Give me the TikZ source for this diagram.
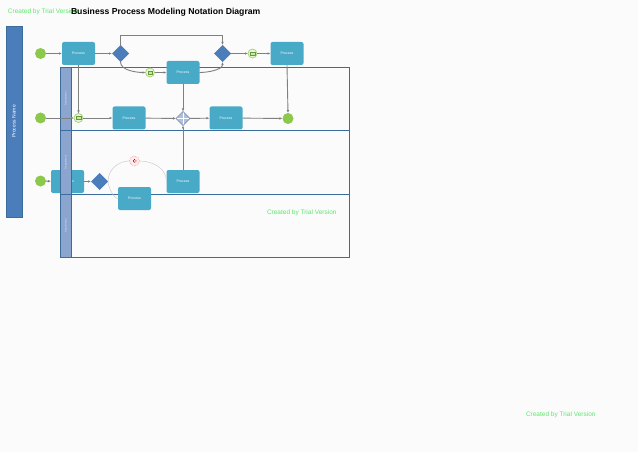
\documentclass[tikz,border=0pt]{standalone}
\usepackage{fontspec}
\setmainfont{Liberation Sans}
\usepackage{tikz}
\usetikzlibrary{arrows.meta, shapes.geometric, positioning, calc}
\definecolor{pagebg}{HTML}{FBFBFB}
\definecolor{poolblue}{HTML}{4A7DBA}
\definecolor{laneblue}{HTML}{8CA5CF}
\definecolor{laneline}{HTML}{3B6C9C}
\definecolor{proc}{HTML}{48AAC6}
\definecolor{evgreen}{HTML}{8CC84B}
\definecolor{trial}{HTML}{5BE86B}

\begin{document}
\begin{tikzpicture}[x=1pt, y=-1pt, font=\small, align=center,
    every node/.style={outer sep=0pt},
    pool/.style={draw=laneline, line width=0.4pt, fill=poolblue, anchor=north west, minimum width=16pt, minimum height=191pt, inner sep=0pt},
    lane/.style={draw=laneline, line width=0.8pt, anchor=north west, minimum width=289pt, minimum height=63.4pt, inner sep=0pt},
    lanehead/.style={draw=laneline, line width=0.8pt, fill=laneblue, anchor=north west, minimum width=11pt, minimum height=63.4pt, inner sep=0pt},
    sidetxt/.style={text=white, rotate=90, font=\fontsize{2.6}{3}\selectfont, text opacity=0.7},
    proc/.style={fill=proc, rounded corners=2pt, minimum width=33pt, minimum height=23pt, inner sep=0pt, text=white, font=\fontsize{3.5}{4}\selectfont},
    gate/.style={diamond, fill=poolblue, minimum width=17pt, minimum height=17pt, inner sep=0pt},
    plusgate/.style={diamond, draw=laneblue!80!black, line width=0.4pt, fill=laneblue!70, minimum width=14pt, minimum height=14pt, inner sep=0pt,
        path picture={\draw[white, line width=1pt] (path picture bounding box.north) -- (path picture bounding box.south) (path picture bounding box.west) -- (path picture bounding box.east);}},
    ev/.style={circle, fill=evgreen, minimum size=11pt, inner sep=0pt},
    msg/.style={circle, draw=evgreen!80, line width=0.7pt, fill=evgreen!20, minimum size=9pt, inner sep=0pt,
        path picture={\draw[evgreen!75!black, line width=0.25pt, fill=evgreen!45] ($(path picture bounding box.center)+(-2.3,-1.5)$) rectangle ($(path picture bounding box.center)+(2.3,1.5)$);}},
    timer/.style={circle, draw=red!45, densely dotted, line width=0.6pt, fill=red!8, minimum size=10pt, inner sep=0pt,
        path picture={\draw[red!60!black, line width=0.9pt] (path picture bounding box.center) circle (1.5pt);}},
    arrow/.style={-{Latex[length=3pt, width=2.6pt]}, draw=black!50, line width=0.9pt},
    softarrow/.style={draw=black!20, line width=0.5pt},
    trialtxt/.style={text=trial, font=\fontsize{6.5}{7}\selectfont},
]
    \useasboundingbox (0,0) rectangle (638,452);
    \fill[pagebg] (0,0) rectangle (638,452);

    \node[trialtxt, anchor=west, inner sep=0pt] (wm1) at (8,12) {Created by Trial Version};
    \node[trialtxt, anchor=west, inner sep=0pt] (wm2) at (267,212.5) {Created by Trial Version};
    \node[trialtxt, anchor=west, inner sep=0pt] (wm3) at (526,414.5) {Created by Trial Version};
    \node[anchor=west, inner sep=0pt, font=\fontsize{8.65}{10}\bfseries\selectfont] (title) at (71,12) {Business Process Modeling Notation Diagram};

    % pool and lanes
    \node[pool] (pool) at (6,26) {};
    \node[text=white, rotate=90, font=\fontsize{5}{6}\selectfont] (poolname) at (pool.center) {Process Name};
    \node[lane] (l1) at (60.5,67.2) {};
    \node[lane] (l2) at (60.5,130.6) {};
    \node[lane] (l3) at (60.5,194) {};

    \node[proc] (p6) at (67.5,181.5) {Process};

    \node[lanehead] (h1) at (60.5,67.2) {};
    \node[lanehead] (h2) at (60.5,130.6) {};
    \node[lanehead] (h3) at (60.5,194) {};
    \node[sidetxt] at (h1.center) {Department};
    \node[sidetxt] at (h2.center) {Department};
    \node[sidetxt] at (h3.center) {Department};

    % top row
    \node[ev] (s1) at (40.5,53.5) {};
    \node[proc] (p1) at (78.5,53.5) {Process};
    \node[gate] (d1) at (120.5,53.5) {};
    \node[proc] (p2) at (183,72.5) {Process};
    \node[msg] (m1) at (150,72.5) {};
    \node[gate] (d2) at (222.5,53.5) {};
    \node[msg] (m2) at (252.5,53.5) {};
    \node[proc] (p3) at (287,53.5) {Process};

    % middle row
    \node[ev] (s2) at (40.5,118) {};
    \node[msg] (m3) at (78.5,118) {};
    \node[proc] (p4) at (129,118) {Process};
    \node[plusgate] (g1) at (183,118.5) {};
    \node[proc] (p5) at (226,118) {Process};
    \node[ev] (e1) at (288,118.5) {};

    % bottom row
    \node[ev] (s3) at (40.5,181) {};
    \node[gate] (d3) at (99.5,181.5) {};
    \node[timer] (t1) at (134.5,161) {};
    \node[proc] (p7) at (134.5,198.5) {Process};
    \node[proc] (p8) at (183,181.5) {Process};

    \draw[arrow] (s1) -- (p1);
    \draw[arrow] (p1) -- (d1);
    \draw[arrow] (d1.north) -- ++(0,-10) -| (d2.north);
    \draw[arrow] (d1.south) to[out=-90, in=180, looseness=0.8] (m1.west);
    \draw[arrow] (m1) -- (p2);
    \draw[arrow] (p2.east) to[out=0, in=-90, looseness=0.8] (d2.south);
    \draw[arrow] (d2) -- (m2);
    \draw[arrow] (m2) -- (p3);
    \draw[arrow] (p3.south) -- (e1.north);
    \draw[arrow] (p1.south) -- (m3.north);
    \draw[arrow] (s2) -- (m3);
    \draw[arrow] (m3) -- (p4);
    \draw[arrow] (p4) -- (g1);
    \draw[arrow] (g1) -- (p5);
    \draw[arrow] (p5) -- (e1);
    \draw[arrow] (p2.south) -- (g1.north);
    \draw[arrow] (p8.north) -- (g1.south);
    \draw[arrow] (s3) -- (p6);
    \draw[arrow] (p6) -- (d3);
    \draw[softarrow] (d3.east) to[out=90, in=180] (t1.west);
    \draw[softarrow] (t1.east) to[out=0, in=90] (p8.west);
    \draw[softarrow] (d3.east) to[out=-90, in=180, looseness=0.6] (p7.west);
\end{tikzpicture}
\end{document}
